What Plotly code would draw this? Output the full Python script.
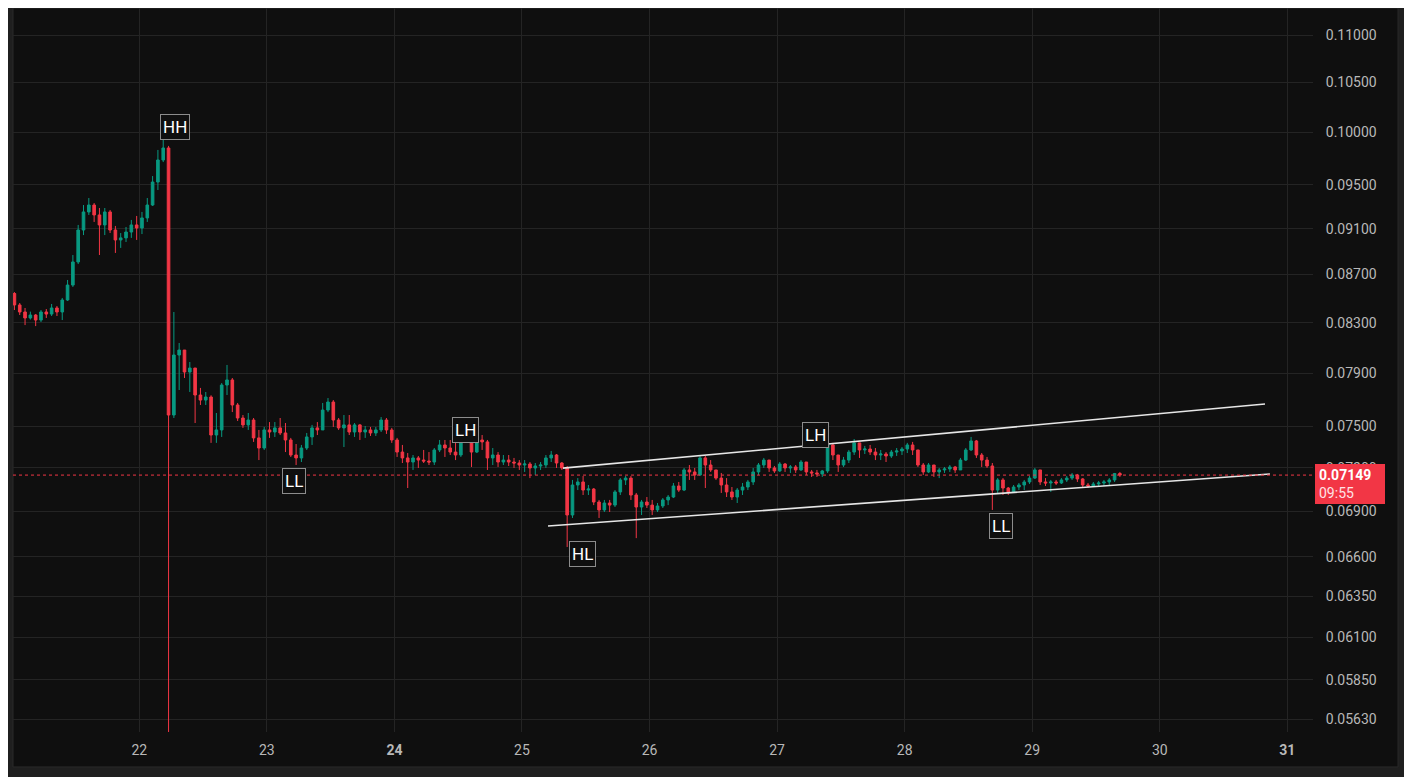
import math

import pandas as pd
import plotly.graph_objects as go

# hourly candles, 21 Mar 00:30 onwards
first_open = 0.08540
close = [
    0.08445, 0.08387, 0.08338, 0.08362, 0.08321, 0.08387, 0.08370, 0.08420, 0.08387, 0.08486,
    0.08611, 0.08808, 0.09088, 0.09250, 0.09313, 0.09223, 0.09133, 0.09250, 0.09088, 0.09000,
    0.09018, 0.09070, 0.09133, 0.09106, 0.09196, 0.09313, 0.09525, 0.09733, 0.09848, 0.07582,
    0.08041, 0.08080, 0.07908, 0.07939, 0.07732, 0.07694, 0.07717, 0.07435, 0.07472, 0.07808,
    0.07847, 0.07657, 0.07560, 0.07509, 0.07545, 0.07414, 0.07341, 0.07472, 0.07457, 0.07487,
    0.07450, 0.07399, 0.07291, 0.07270, 0.07341, 0.07421, 0.07487, 0.07472, 0.07619, 0.07679,
    0.07545, 0.07487, 0.07509, 0.07457, 0.07509, 0.07457, 0.07472, 0.07450, 0.07472, 0.07545,
    0.07472, 0.07399, 0.07312, 0.07270, 0.07241, 0.07270, 0.07255, 0.07248, 0.07241, 0.07327,
    0.07363, 0.07341, 0.07312, 0.07291, 0.07435, 0.07399, 0.07312, 0.07399, 0.07385, 0.07270,
    0.07291, 0.07241, 0.07255, 0.07241, 0.07234, 0.07220, 0.07227, 0.07199, 0.07213, 0.07220,
    0.07270, 0.07291, 0.07234, 0.07199, 0.06875, 0.07080, 0.07101, 0.07045, 0.07052, 0.06963,
    0.06909, 0.06956, 0.06942, 0.07032, 0.07115, 0.07128, 0.07011, 0.06929, 0.06963, 0.06942,
    0.06909, 0.06936, 0.06977, 0.06997, 0.07073, 0.07045, 0.07185, 0.07171, 0.07150, 0.07270,
    0.07220, 0.07185, 0.07128, 0.07080, 0.07032, 0.06997, 0.07045, 0.07066, 0.07101, 0.07171,
    0.07220, 0.07255, 0.07199, 0.07178, 0.07227, 0.07199, 0.07206, 0.07185, 0.07241, 0.07171,
    0.07164, 0.07157, 0.07178, 0.07363, 0.07291, 0.07220, 0.07255, 0.07312, 0.07378, 0.07327,
    0.07334, 0.07312, 0.07291, 0.07298, 0.07284, 0.07312, 0.07320, 0.07334, 0.07363, 0.07327,
    0.07220, 0.07171, 0.07220, 0.07171, 0.07185, 0.07192, 0.07206, 0.07185, 0.07255, 0.07327,
    0.07392, 0.07291, 0.07255, 0.07213, 0.07045, 0.07115, 0.07059, 0.07032, 0.07066, 0.07080,
    0.07101, 0.07128, 0.07185, 0.07101, 0.07094, 0.07101, 0.07094, 0.07115, 0.07128, 0.07150,
    0.07122, 0.07080, 0.07073, 0.07087, 0.07094, 0.07101, 0.07115, 0.07160, 0.07149,
]
high = [
    0.08552, 0.08461, 0.08420, 0.08390, 0.08370, 0.08403, 0.08411, 0.08453, 0.08436, 0.08503,
    0.08654, 0.08868, 0.09133, 0.09313, 0.09377, 0.09331, 0.09286, 0.09286, 0.09268, 0.09124,
    0.09061, 0.09115, 0.09178, 0.09214, 0.09250, 0.09377, 0.09581, 0.09829, 0.10043, 0.09868,
    0.08387, 0.08136, 0.08080, 0.07986, 0.07939, 0.07786, 0.07755, 0.07730, 0.07597, 0.07823,
    0.07963, 0.07862, 0.07672, 0.07582, 0.07597, 0.07560, 0.07472, 0.07494, 0.07530, 0.07530,
    0.07560, 0.07523, 0.07414, 0.07370, 0.07363, 0.07450, 0.07509, 0.07530, 0.07672, 0.07709,
    0.07694, 0.07560, 0.07582, 0.07582, 0.07523, 0.07516, 0.07501, 0.07494, 0.07494, 0.07567,
    0.07560, 0.07487, 0.07414, 0.07363, 0.07305, 0.07291, 0.07284, 0.07327, 0.07312, 0.07341,
    0.07399, 0.07399, 0.07399, 0.07378, 0.07457, 0.07457, 0.07399, 0.07435, 0.07435, 0.07399,
    0.07341, 0.07312, 0.07291, 0.07291, 0.07270, 0.07255, 0.07255, 0.07241, 0.07234, 0.07241,
    0.07291, 0.07320, 0.07298, 0.07241, 0.07213, 0.07115, 0.07128, 0.07143, 0.07080, 0.07059,
    0.06977, 0.06977, 0.06977, 0.07045, 0.07128, 0.07143, 0.07143, 0.07025, 0.06977, 0.06997,
    0.06977, 0.06956, 0.06990, 0.07011, 0.07094, 0.07101, 0.07199, 0.07220, 0.07199, 0.07291,
    0.07284, 0.07255, 0.07185, 0.07164, 0.07128, 0.07066, 0.07059, 0.07094, 0.07115, 0.07199,
    0.07234, 0.07270, 0.07255, 0.07213, 0.07241, 0.07234, 0.07220, 0.07220, 0.07255, 0.07241,
    0.07185, 0.07185, 0.07185, 0.07399, 0.07378, 0.07291, 0.07277, 0.07327, 0.07406, 0.07378,
    0.07356, 0.07363, 0.07341, 0.07327, 0.07312, 0.07327, 0.07341, 0.07348, 0.07378, 0.07385,
    0.07327, 0.07234, 0.07234, 0.07220, 0.07199, 0.07206, 0.07220, 0.07213, 0.07270, 0.07341,
    0.07421, 0.07399, 0.07305, 0.07277, 0.07234, 0.07128, 0.07128, 0.07066, 0.07080, 0.07094,
    0.07115, 0.07143, 0.07199, 0.07185, 0.07128, 0.07115, 0.07115, 0.07128, 0.07143, 0.07164,
    0.07157, 0.07128, 0.07094, 0.07101, 0.07108, 0.07115, 0.07128, 0.07164, 0.07171,
]
low = [
    0.08403, 0.08362, 0.08280, 0.08325, 0.08272, 0.08305, 0.08338, 0.08354, 0.08354, 0.08321,
    0.08478, 0.08595, 0.08790, 0.09043, 0.09223, 0.09160, 0.08868, 0.09043, 0.09061, 0.08886,
    0.08930, 0.08982, 0.09018, 0.09000, 0.09052, 0.09160, 0.09304, 0.09451, 0.09713, 0.05559,
    0.07560, 0.07770, 0.07862, 0.07755, 0.07523, 0.07657, 0.07657, 0.07378, 0.07378, 0.07421,
    0.07732, 0.07604, 0.07538, 0.07487, 0.07472, 0.07385, 0.07255, 0.07327, 0.07414, 0.07421,
    0.07435, 0.07312, 0.07277, 0.07220, 0.07241, 0.07327, 0.07363, 0.07435, 0.07472, 0.07604,
    0.07494, 0.07472, 0.07348, 0.07435, 0.07421, 0.07399, 0.07414, 0.07428, 0.07428, 0.07457,
    0.07443, 0.07378, 0.07277, 0.07234, 0.07059, 0.07185, 0.07199, 0.07234, 0.07220, 0.07220,
    0.07312, 0.07277, 0.07291, 0.07255, 0.07277, 0.07378, 0.07206, 0.07305, 0.07327, 0.07185,
    0.07220, 0.07206, 0.07220, 0.07213, 0.07199, 0.07185, 0.07171, 0.07128, 0.07150, 0.07185,
    0.07199, 0.07241, 0.07199, 0.07185, 0.06663, 0.06855, 0.07045, 0.07011, 0.07011, 0.06942,
    0.06855, 0.06895, 0.06895, 0.06929, 0.07011, 0.07080, 0.06977, 0.06721, 0.06875, 0.06922,
    0.06875, 0.06895, 0.06922, 0.06942, 0.06990, 0.07032, 0.07038, 0.07115, 0.07115, 0.07143,
    0.07059, 0.07171, 0.07115, 0.07025, 0.06997, 0.06977, 0.06956, 0.07011, 0.07045, 0.07080,
    0.07150, 0.07199, 0.07171, 0.07164, 0.07171, 0.07171, 0.07164, 0.07164, 0.07178, 0.07150,
    0.07136, 0.07136, 0.07136, 0.07164, 0.07255, 0.07171, 0.07206, 0.07234, 0.07291, 0.07270,
    0.07298, 0.07291, 0.07255, 0.07255, 0.07241, 0.07270, 0.07284, 0.07291, 0.07305, 0.07291,
    0.07206, 0.07150, 0.07164, 0.07136, 0.07128, 0.07164, 0.07171, 0.07164, 0.07185, 0.07248,
    0.07320, 0.07270, 0.07206, 0.07199, 0.06909, 0.07025, 0.07011, 0.07011, 0.07025, 0.07045,
    0.07045, 0.07087, 0.07122, 0.07080, 0.07073, 0.07032, 0.07080, 0.07087, 0.07101, 0.07115,
    0.07101, 0.07059, 0.07059, 0.07066, 0.07066, 0.07073, 0.07080, 0.07101, 0.07136,
]

# swing labels: text, candle index, which extreme
pivot_text = ["HH", "LL", "LH", "HL", "LH", "LL"]
pivot_bar = [28, 53, 85, 104, 153, 184]
pivot_side = ["high", "low", "high", "low", "high", "low"]

# drawn channel (times, prices)
upper_times = ["2024-03-25 07:43", "2024-03-30 19:48"]
upper_prices = [0.07198, 0.07664]
lower_times = ["2024-03-25 04:54", "2024-03-30 20:44"]
lower_prices = [0.06801, 0.07157]

price_ticks = [0.0563, 0.0585, 0.061, 0.0635, 0.066, 0.069, 0.072, 0.075,
               0.079, 0.083, 0.087, 0.091, 0.095, 0.100, 0.105, 0.110]
day_ticks = ["2024-03-%02d" % d for d in range(22, 32)]
day_text = ["22", "23", "<b>24</b>", "25", "26", "27", "28", "29", "30", "<b>31</b>"]
countdown = "09:55"

view_start, view_end = "2024-03-21 00:14", "2024-03-31 04:50"
price_low, price_high = 0.055589, 0.112947

UP, DOWN = "#089981", "#f23645"
BG, FRAME, GRID, TEXT = "#0f0f0f", "#1f1f1f", "#242424", "#b8b8b8"
FONT = "Roboto, sans-serif"

times = pd.date_range("2024-03-21 00:30", periods=len(close), freq="h")
opens = [first_open] + close[:-1]
last = close[-1]

fig = go.Figure()
fig.add_trace(go.Candlestick(
    x=times, open=opens, high=high, low=low, close=close,
    increasing=dict(line=dict(color=UP, width=1), fillcolor=UP),
    decreasing=dict(line=dict(color=DOWN, width=1), fillcolor=DOWN),
    whiskerwidth=0, showlegend=False, hoverinfo="skip",
))
for t, p in ((upper_times, upper_prices), (lower_times, lower_prices)):
    fig.add_trace(go.Scatter(x=t, y=p, mode="lines", showlegend=False, hoverinfo="skip",
                             line=dict(color="#e6e6e6", width=1.6)))
fig.add_trace(go.Scatter(x=[view_start, view_end], y=[last, last], mode="lines",
                         showlegend=False, hoverinfo="skip",
                         line=dict(color=DOWN, width=1, dash="dot")))

label_shift = [(12, 1), (-2, -16), (-1, 2), (15, -7), (-12, 5), (9, -16)]
for text, bar, side, (dx, dy) in zip(pivot_text, pivot_bar, pivot_side, label_shift):
    price = high[bar] if side == "high" else low[bar]
    fig.add_annotation(
        x=times[bar], y=math.log10(price), text=text, showarrow=False,
        xshift=dx, yshift=dy, font=dict(family=FONT, size=17, color="#ffffff"),
        bgcolor=BG, bordercolor="#8c8c8c", borderwidth=1, borderpad=2,
    )

fig.add_annotation(
    xref="paper", x=1, xanchor="left", xshift=2,
    y=math.log10(last), yanchor="middle", yshift=-9,
    text="<b>%.5f</b><br><span style='color:#ffe3e6'>%s</span>" % (last, countdown),
    showarrow=False, align="left", width=62, height=32,
    bgcolor=DOWN, bordercolor=DOWN, borderwidth=1, borderpad=3,
    font=dict(family=FONT, size=14, color="#ffffff"),
)

# dark chart panel on a lighter window frame
fig.add_shape(type="rect", xref="paper", yref="paper", x0=0, x1=1.0654, y0=-0.0483, y1=1,
              fillcolor=BG, line=dict(color="#2a2a2a", width=1), layer="below")

fig.update_layout(
    width=1404, height=769,
    margin=dict(l=5, r=99, t=0, b=45),
    paper_bgcolor=FRAME, plot_bgcolor=BG,
    font=dict(family=FONT, size=13, color=TEXT),
    xaxis=dict(
        range=[view_start, view_end], rangeslider=dict(visible=False),
        tickvals=day_ticks, ticktext=day_text,
        ticks="outside", ticklen=5, tickcolor="rgba(0,0,0,0)",
        showgrid=True, gridcolor=GRID, gridwidth=1, zeroline=False, showline=False,
        tickfont=dict(size=14, color=TEXT),
    ),
    yaxis=dict(
        type="log", side="right",
        range=[math.log10(price_low), math.log10(price_high)],
        tickvals=price_ticks, tickformat=".5f",
        ticks="outside", ticklen=9, tickcolor="rgba(0,0,0,0)",
        showgrid=True, gridcolor=GRID, gridwidth=1, zeroline=False, showline=False,
        tickfont=dict(size=14, color=TEXT),
    ),
)

fig.write_html("out.html")
